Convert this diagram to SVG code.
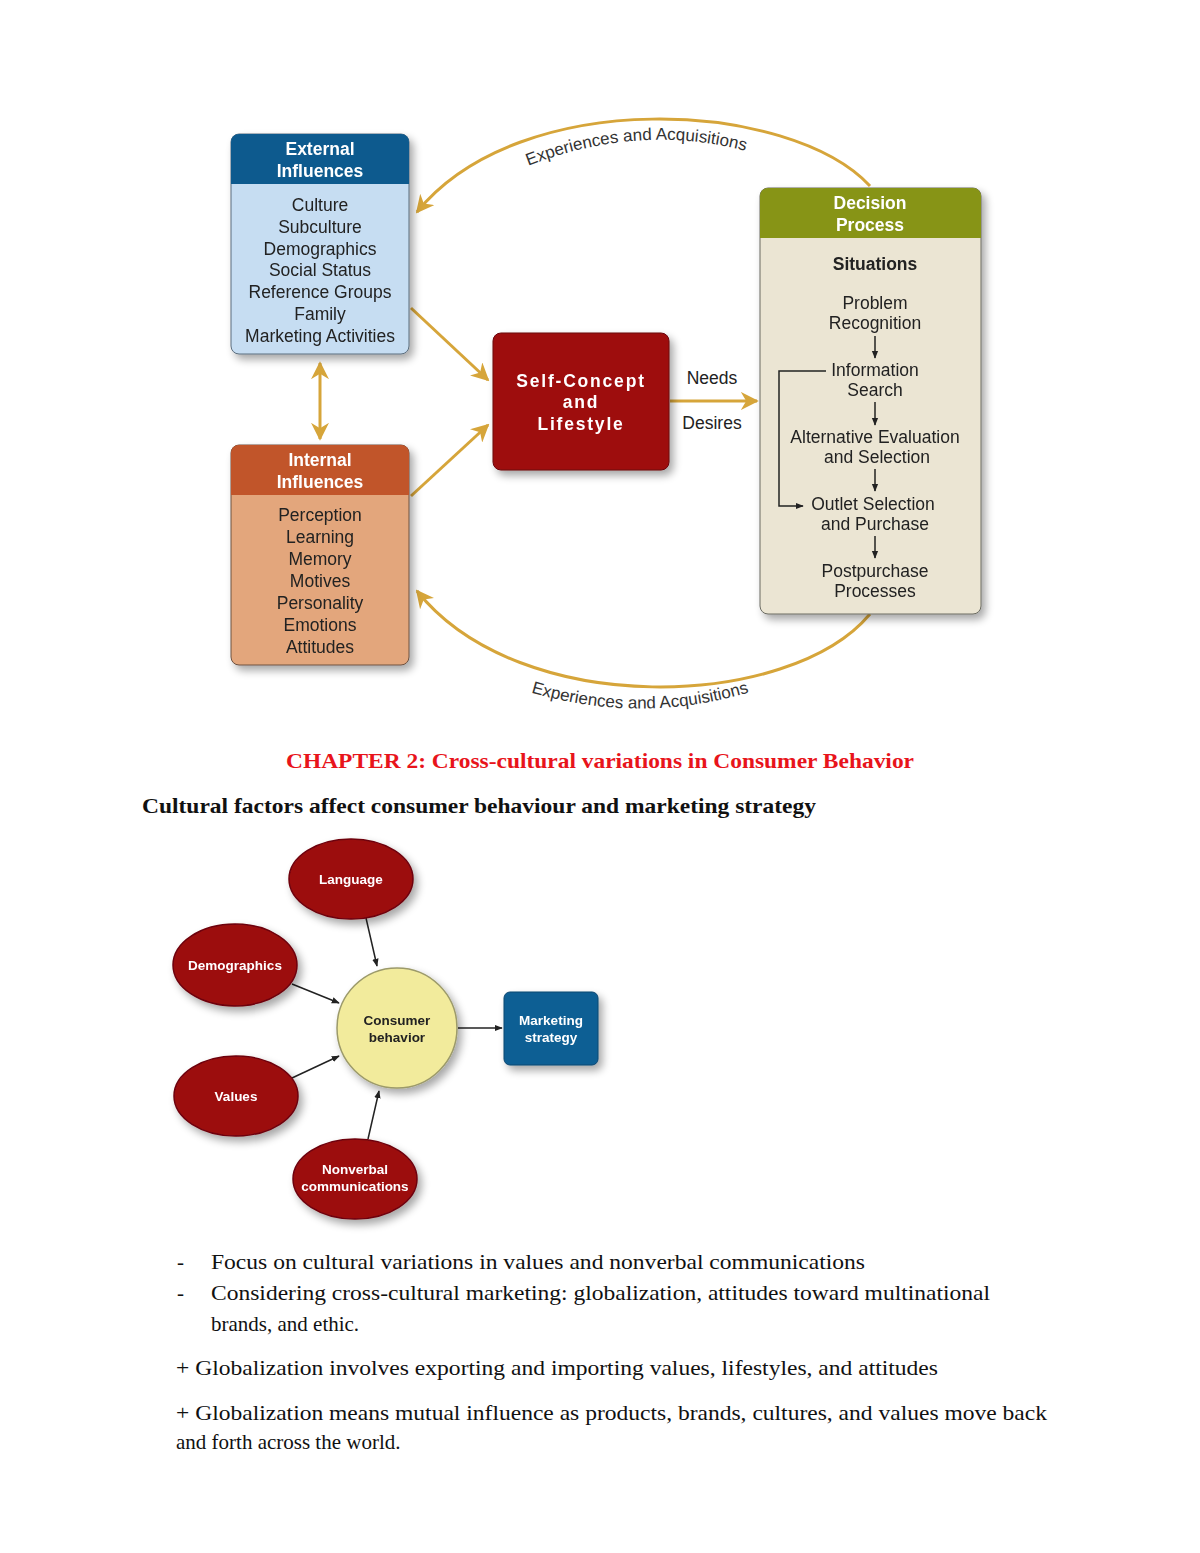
<svg xmlns="http://www.w3.org/2000/svg" width="1200" height="1553" viewBox="0 0 1200 1553">
<defs>
<filter id="sh" x="-20%" y="-20%" width="150%" height="150%"><feGaussianBlur in="SourceAlpha" stdDeviation="4"/><feOffset dx="4" dy="5"/><feComponentTransfer><feFuncA type="linear" slope="0.35"/></feComponentTransfer><feMerge><feMergeNode/><feMergeNode in="SourceGraphic"/></feMerge></filter>
<marker id="gb" viewBox="0 0 10 10" refX="9" refY="5" markerWidth="18" markerHeight="18" orient="auto-start-reverse" markerUnits="userSpaceOnUse"><path d="M0,0 L10,5 L0,10 L3,5 z" fill="#d6a53a"/></marker>
<marker id="ka" viewBox="0 0 10 10" refX="9" refY="5" markerWidth="8" markerHeight="8" orient="auto" markerUnits="userSpaceOnUse"><path d="M0,1 L10,5 L0,9 z" fill="#222"/></marker>
<path id="tp1" d="M500 178 Q640 112 775 160"/>
<path id="tp2" d="M495 680 Q640 737 785 680"/>
</defs>
<style>
.s{font-family:"Liberation Sans",Arial,sans-serif}
.hd{font-family:"Liberation Sans",Arial,sans-serif;font-weight:bold;fill:#fff;font-size:17.5px;text-anchor:middle}
.bd{font-family:"Liberation Sans",Arial,sans-serif;fill:#222;font-size:17.5px;text-anchor:middle}
.g{stroke:#d6a53a;stroke-width:3;fill:none}
.k{stroke:#222;stroke-width:1.5;fill:none}
.ser{font-family:"Liberation Serif","Times New Roman",serif;font-size:21px;fill:#111}
.el{fill:#9c0a10;stroke:#6e060a;stroke-width:1.5}
.wt{font-family:"Liberation Sans",Arial,sans-serif;font-weight:bold;fill:#fff;font-size:13.5px;text-anchor:middle}
</style>
<rect width="1200" height="1553" fill="#fff"/>

<g id="connectors">
<path class="g" d="M870,186 C790,100 520,85 417,212" marker-end="url(#gb)"/>
<path class="g" d="M870,614 C790,710 520,720 417,591" marker-end="url(#gb)"/>
<line class="g" x1="411" y1="308" x2="488" y2="380" marker-end="url(#gb)"/>
<line class="g" x1="411" y1="496" x2="488" y2="425" marker-end="url(#gb)"/>
<line class="g" x1="320" y1="363" x2="320" y2="439" marker-start="url(#gb)" marker-end="url(#gb)"/>
<line class="g" x1="670" y1="401" x2="757" y2="401" stroke-width="4" marker-end="url(#gb)"/>
<line class="k" x1="366" y1="918" x2="377" y2="966" marker-end="url(#ka)"/>
<line class="k" x1="292" y1="984" x2="339" y2="1003" marker-end="url(#ka)"/>
<line class="k" x1="292" y1="1078" x2="339" y2="1056" marker-end="url(#ka)"/>
<line class="k" x1="368" y1="1139" x2="379" y2="1091" marker-end="url(#ka)"/>
<line class="k" x1="458" y1="1028" x2="502" y2="1028" marker-end="url(#ka)"/>
</g>
<text class="s" font-size="17" fill="#333"><textPath href="#tp1" startOffset="50%" text-anchor="middle">Experiences and Acquisitions</textPath></text>
<text class="s" font-size="17" fill="#333"><textPath href="#tp2" startOffset="50%" text-anchor="middle">Experiences and Acquisitions</textPath></text>

<g id="external" filter="url(#sh)">
<rect x="231" y="134" width="178" height="220" rx="8" fill="#c6ddf2" stroke="#5a6c7c" stroke-width="1"/>
<path d="M239,134 H401 A8,8 0 0 1 409,142 V184 H231 V142 A8,8 0 0 1 239,134 z" fill="#0d5a8e"/>
<text class="hd" x="320" y="155">External</text>
<text class="hd" x="320" y="177">Influences</text>
<text class="bd" x="320" y="211">Culture</text>
<text class="bd" x="320" y="233">Subculture</text>
<text class="bd" x="320" y="255">Demographics</text>
<text class="bd" x="320" y="276">Social Status</text>
<text class="bd" x="320" y="298">Reference Groups</text>
<text class="bd" x="320" y="320">Family</text>
<text class="bd" x="320" y="342">Marketing Activities</text>
</g>

<g id="internal" filter="url(#sh)">
<rect x="231" y="445" width="178" height="220" rx="8" fill="#e3a67b" stroke="#6c5040" stroke-width="1"/>
<path d="M239,445 H401 A8,8 0 0 1 409,453 V495 H231 V453 A8,8 0 0 1 239,445 z" fill="#c1542b"/>
<text class="hd" x="320" y="466">Internal</text>
<text class="hd" x="320" y="488">Influences</text>
<text class="bd" x="320" y="521">Perception</text>
<text class="bd" x="320" y="543">Learning</text>
<text class="bd" x="320" y="565">Memory</text>
<text class="bd" x="320" y="587">Motives</text>
<text class="bd" x="320" y="609">Personality</text>
<text class="bd" x="320" y="631">Emotions</text>
<text class="bd" x="320" y="653">Attitudes</text>
</g>

<g id="selfconcept" filter="url(#sh)">
<rect x="493" y="333" width="176" height="137" rx="8" fill="#9e0b10" stroke="#6a0508" stroke-width="1"/>
<text class="hd" x="581" y="387" letter-spacing="1.8">Self-Concept</text>
<text class="hd" x="581" y="408" letter-spacing="1.8">and</text>
<text class="hd" x="581" y="430" letter-spacing="1.8">Lifestyle</text>
</g>
<text class="bd" x="712" y="384">Needs</text>
<text class="bd" x="712" y="429">Desires</text>

<g id="decision" filter="url(#sh)">
<rect x="760" y="188" width="221" height="426" rx="8" fill="#ebe5d3" stroke="#6a6a60" stroke-width="1"/>
<path d="M768,188 H973 A8,8 0 0 1 981,196 V238 H760 V196 A8,8 0 0 1 768,188 z" fill="#879419"/>
<text class="hd" x="870" y="209">Decision</text>
<text class="hd" x="870" y="231">Process</text>
<text class="bd" x="875" y="270" font-weight="bold">Situations</text>
<text class="bd" x="875" y="309">Problem</text>
<text class="bd" x="875" y="329">Recognition</text>
<text class="bd" x="875" y="376">Information</text>
<text class="bd" x="875" y="396">Search</text>
<text class="bd" x="875" y="443">Alternative Evaluation</text>
<text class="bd" x="877" y="463">and Selection</text>
<text class="bd" x="873" y="510">Outlet Selection</text>
<text class="bd" x="875" y="530">and Purchase</text>
<text class="bd" x="875" y="577">Postpurchase</text>
<text class="bd" x="875" y="597">Processes</text>
<line class="k" x1="875" y1="336" x2="875" y2="358" marker-end="url(#ka)"/>
<line class="k" x1="875" y1="402" x2="875" y2="425" marker-end="url(#ka)"/>
<line class="k" x1="875" y1="469" x2="875" y2="491" marker-end="url(#ka)"/>
<line class="k" x1="875" y1="536" x2="875" y2="558" marker-end="url(#ka)"/>
<path class="k" d="M826,371 H779 V506 H803" marker-end="url(#ka)"/>
</g>

<text x="600" y="768" text-anchor="middle" font-family="'Liberation Serif','Times New Roman',serif" font-size="21" font-weight="bold" fill="#e8141b" textLength="628" lengthAdjust="spacingAndGlyphs">CHAPTER 2: Cross-cultural variations in Consumer Behavior</text>
<text x="142" y="813" font-family="'Liberation Serif','Times New Roman',serif" font-size="21" font-weight="bold" fill="#111" textLength="674" lengthAdjust="spacingAndGlyphs">Cultural factors affect consumer behaviour and marketing strategy</text>

<g id="language" filter="url(#sh)"><ellipse class="el" cx="351" cy="879" rx="62" ry="40"/><text class="wt" x="351" y="884">Language</text></g>
<g id="demographics" filter="url(#sh)"><ellipse class="el" cx="235" cy="965" rx="62" ry="41"/><text class="wt" x="235" y="970">Demographics</text></g>
<g id="values" filter="url(#sh)"><ellipse class="el" cx="236" cy="1096" rx="62" ry="40"/><text class="wt" x="236" y="1101">Values</text></g>
<g id="nonverbal" filter="url(#sh)"><ellipse class="el" cx="355" cy="1179" rx="62" ry="40"/><text class="wt" x="355" y="1174">Nonverbal</text><text class="wt" x="355" y="1191">communications</text></g>
<g id="consumer" filter="url(#sh)"><circle cx="397" cy="1028" r="60" fill="#f2eb9c" stroke="#9c9a6a" stroke-width="1.5"/><text class="wt" x="397" y="1025" style="fill:#222">Consumer</text><text class="wt" x="397" y="1042" style="fill:#222">behavior</text></g>
<g id="marketing" filter="url(#sh)"><rect x="504" y="992" width="94" height="73" rx="6" fill="#0d5f94" stroke="#0a4670" stroke-width="1"/><text class="wt" x="551" y="1025">Marketing</text><text class="wt" x="551" y="1042">strategy</text></g>

<text class="ser" x="177" y="1269">-</text>
<text class="ser" x="211" y="1269" textLength="654" lengthAdjust="spacingAndGlyphs">Focus on cultural variations in values and nonverbal communications</text>
<text class="ser" x="177" y="1300">-</text>
<text class="ser" x="211" y="1300" textLength="779" lengthAdjust="spacingAndGlyphs">Considering cross-cultural marketing: globalization, attitudes toward multinational</text>
<text class="ser" x="211" y="1331">brands, and ethic.</text>
<text class="ser" x="176" y="1375" textLength="762" lengthAdjust="spacingAndGlyphs">+ Globalization involves exporting and importing values, lifestyles, and attitudes</text>
<text class="ser" x="176" y="1420" textLength="871" lengthAdjust="spacingAndGlyphs">+ Globalization means mutual influence as products, brands, cultures, and values move back</text>
<text class="ser" x="176" y="1449">and forth across the world.</text>
</svg>
